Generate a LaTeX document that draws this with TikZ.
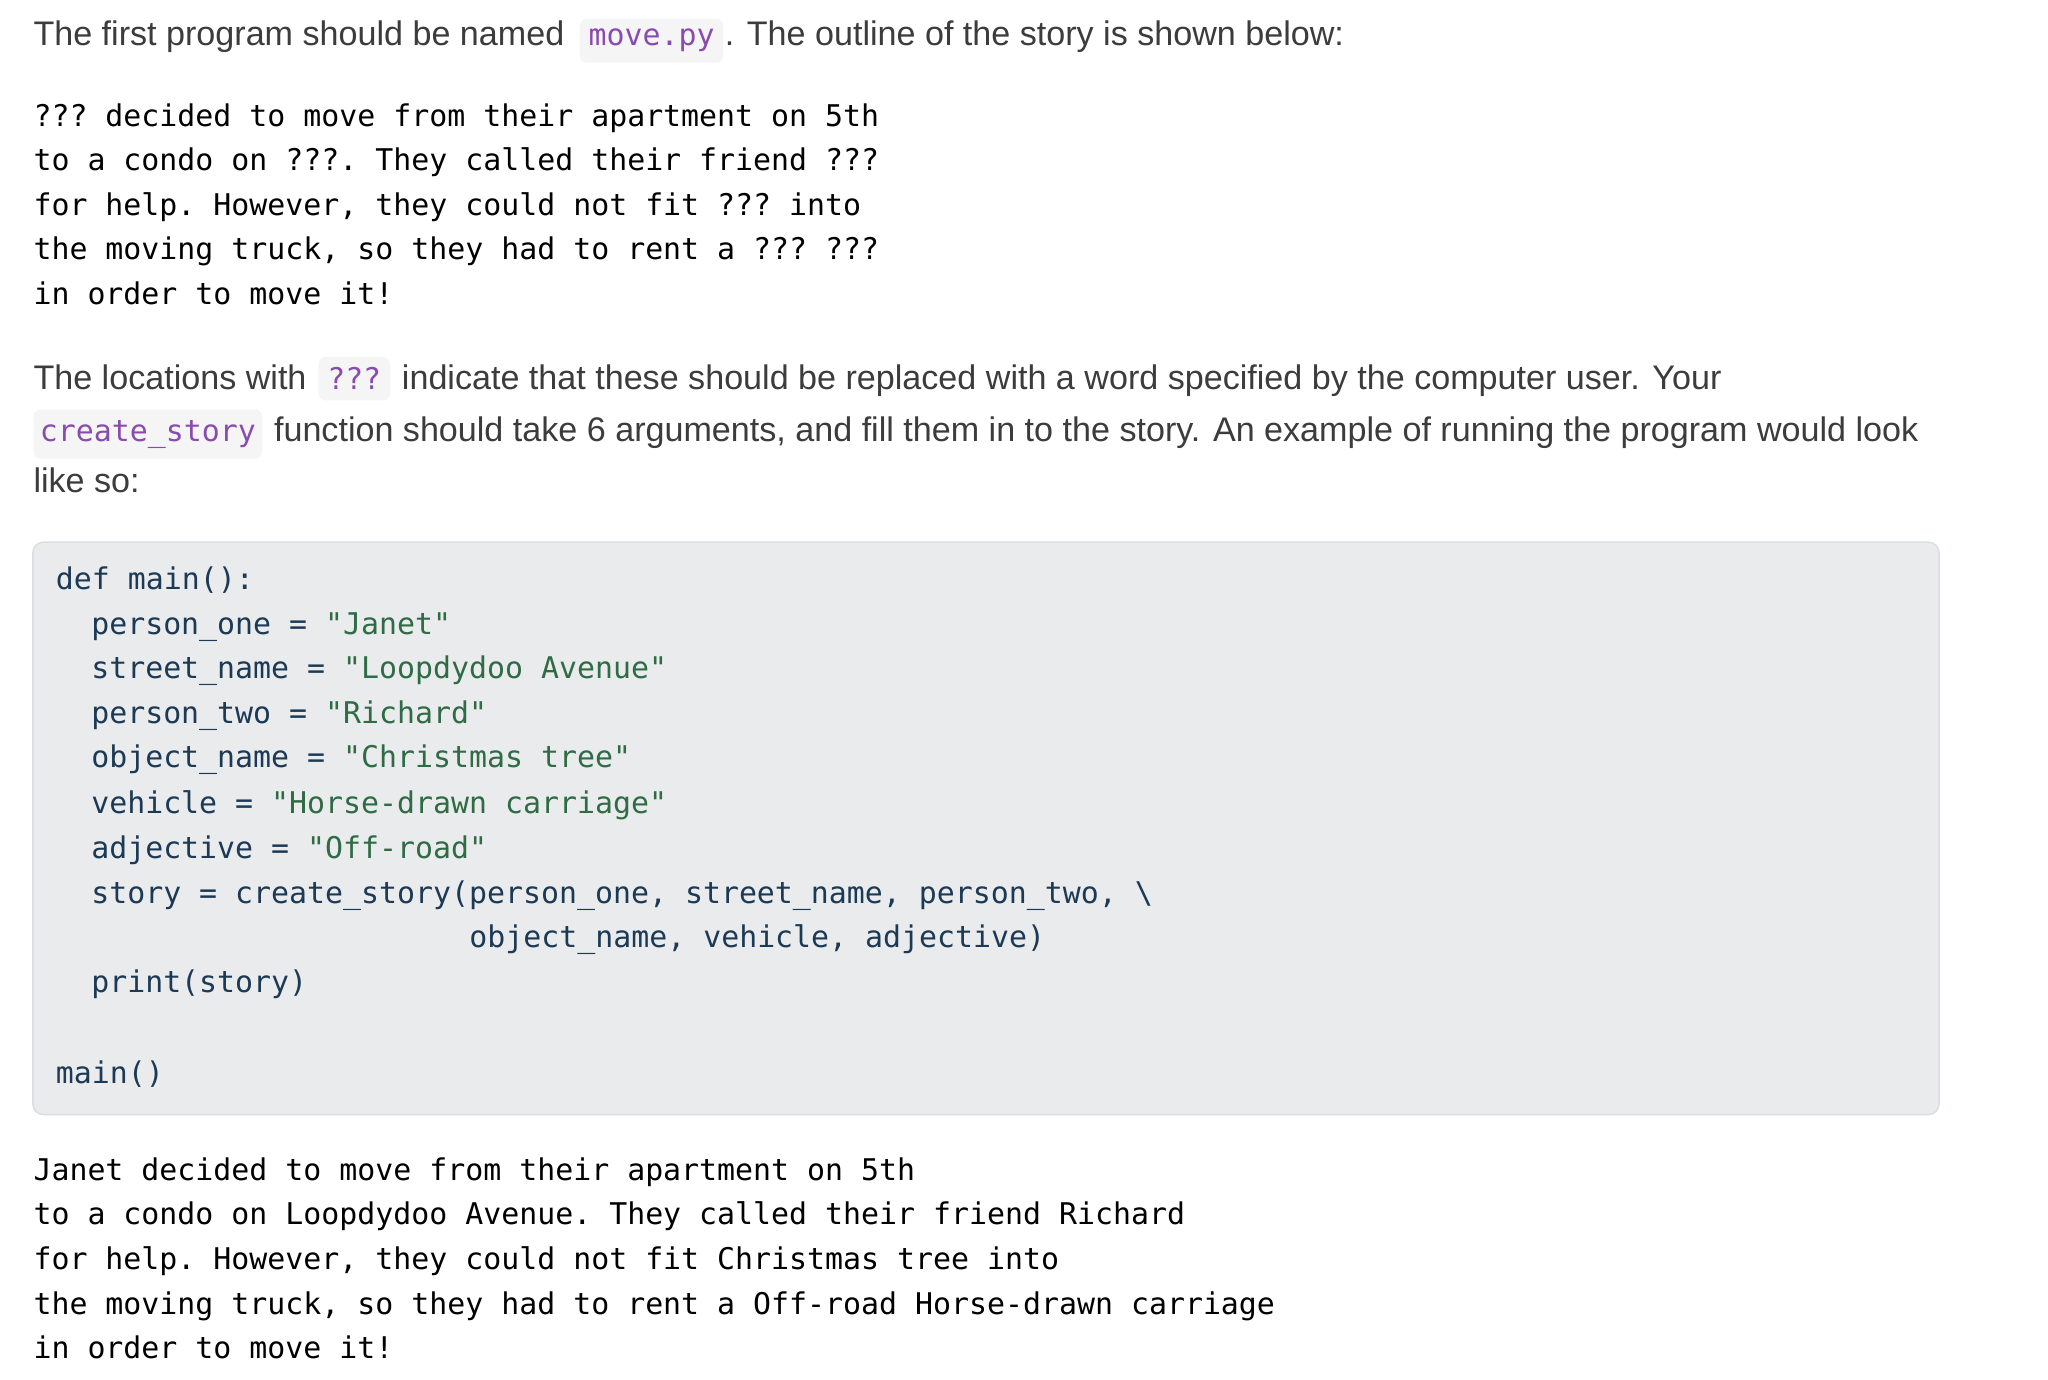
\documentclass[tikz,border=0pt]{standalone}
\usepackage{fontspec}
\setmainfont{Liberation Sans}
\setmonofont{DejaVu Sans Mono}
\definecolor{bodytxt}{HTML}{3C3C3C}
\definecolor{purp}{HTML}{8A4BAF}
\definecolor{inbg}{HTML}{F5F5F6}
\definecolor{codebg}{HTML}{E9EBED}
\definecolor{codeborder}{HTML}{DADDE1}
\definecolor{navy}{HTML}{1C3A55}
\definecolor{strg}{HTML}{2F6B45}
\newcommand{\bodyfs}{\fontsize{9.7pt}{12pt}\selectfont}
\newcommand{\monofs}{\fontsize{8.5pt}{12pt}\selectfont\ttfamily}
\tikzset{
  body/.style={anchor=base west, inner sep=0pt, text=bodytxt, font=\bodyfs},
  inl/.style={anchor=base west, inner xsep=2.5pt, inner ysep=3pt, text=purp, fill=inbg, rounded corners=2pt, font=\monofs},
  mono/.style={anchor=base west, inner sep=0pt, text=black, font=\monofs},
  code/.style={anchor=base west, inner sep=0pt, text=navy, font=\monofs},
}
\begin{document}
\begin{tikzpicture}[x=0.013128cm, y=-0.013128cm]
\useasboundingbox (0,0) rectangle (1560,1051);
\fill[white] (0,0) rectangle (1560,1051);
% line 1
\node[body] (l1a) at (25,35) {The first program should be named};
\node[inl] (l1b) at ([xshift=4pt]l1a.base east) {move.py};
\node[body] (l1c) at ([xshift=0pt]l1b.base east) {. The outline of the story is shown below:};
% template
\node[mono] (t1) at (25,96) {??? decided to move from their apartment on 5th};
\node[mono] (t2) at (25,130) {to a condo on ???. They called their friend ???};
\node[mono] (t3) at (25,164) {for help. However, they could not fit ??? into};
\node[mono] (t4) at (25,198) {the moving truck, so they had to rent a ??? ???};
\node[mono] (t5) at (25,232) {in order to move it!};
% paragraph
\node[body] (p1a) at (25,297) {The locations with};
\node[inl] (p1b) at ([xshift=3pt]p1a.base east) {???};
\node[body] (p1c) at ([xshift=3pt]p1b.base east) {indicate that these should be replaced with a word specified by the computer user. Your};
\node[inl, inner xsep=1.8pt] (p2a) at (25,336) {create\_story};
\node[body] (p2b) at ([xshift=3pt]p2a.base east) {function should take 6 arguments, and fill them in to the story. An example of running the program would look};
\node[body] (p3) at (25,375) {like so:};
% code block
\draw[codeborder, fill=codebg, rounded corners=3pt] (25,413) rectangle (1477,849);
\node[code] (c1) at (42,449) {def main():};
\node[code] (c2) at (69,483) {person\_one = \textcolor{strg}{"Janet"}};
\node[code] (c3) at (69,517) {street\_name = \textcolor{strg}{"Loopdydoo Avenue"}};
\node[code] (c4) at (69,551) {person\_two = \textcolor{strg}{"Richard"}};
\node[code] (c5) at (69,585) {object\_name = \textcolor{strg}{"Christmas tree"}};
\node[code] (c6) at (69,620) {vehicle = \textcolor{strg}{"Horse-drawn carriage"}};
\node[code] (c7) at (69,654) {adjective = \textcolor{strg}{"Off-road"}};
\node[code] (c8) at (69,688) {story = create\_story(person\_one, street\_name, person\_two, \textbackslash};
\node[code] (c9) at (357,722) {object\_name, vehicle, adjective)};
\node[code] (c10) at (69,756) {print(story)};
\node[code] (c11) at (42,825) {main()};
% output
\node[mono] (o1) at (25,899) {Janet decided to move from their apartment on 5th};
\node[mono] (o2) at (25,933) {to a condo on Loopdydoo Avenue. They called their friend Richard};
\node[mono] (o3) at (25,967) {for help. However, they could not fit Christmas tree into};
\node[mono] (o4) at (25,1001) {the moving truck, so they had to rent a Off-road Horse-drawn carriage};
\node[mono] (o5) at (25,1035) {in order to move it!};
\end{tikzpicture}
\end{document}
